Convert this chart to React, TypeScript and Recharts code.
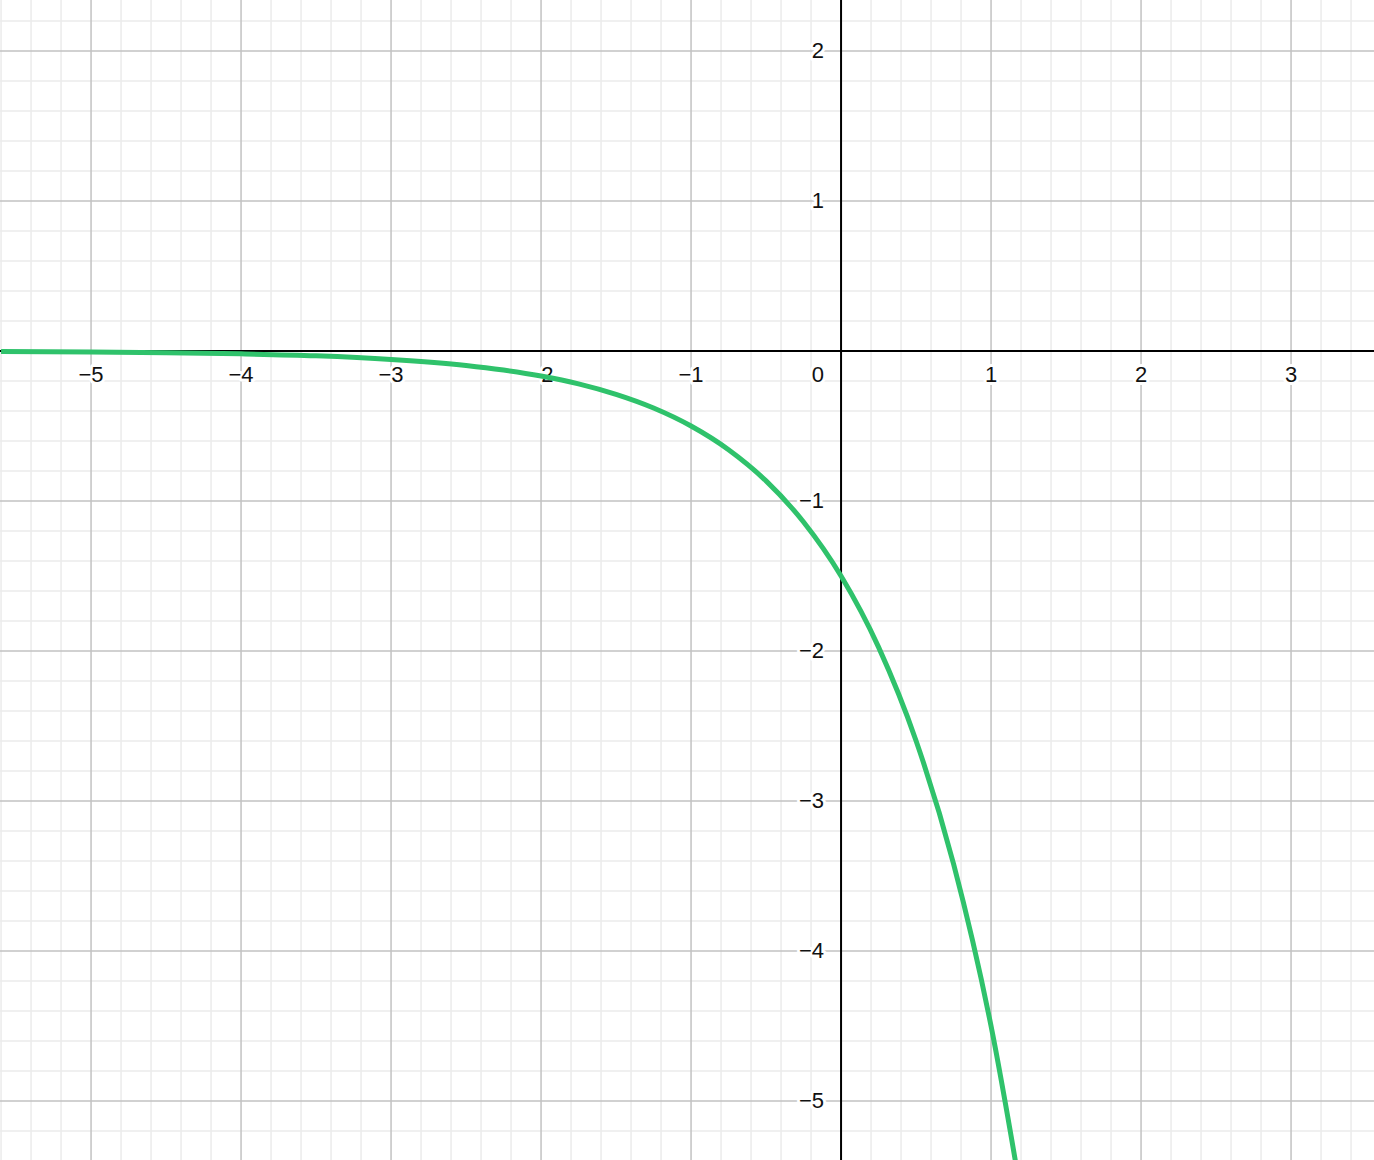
import React from 'react';
import { LineChart, Line, XAxis, YAxis, ReferenceLine, ReferenceDot } from 'recharts';

// curve (x, y)
const curveX = [
  -5.6, -5, -4.5, -4, -3.5, -3, -2.5, -2.25, -2, -1.75, -1.5, -1.25, -1,
  -0.75, -0.5, -0.25, 0, 0.25, 0.5, 0.75, 1, 1.25,
];
const curveY = [
  -0.003, -0.006, -0.011, -0.019, -0.032, -0.056, -0.096, -0.127, -0.167, -0.219, -0.289, -0.38, -0.5,
  -0.658, -0.866, -1.14, -1.5, -1.974, -2.598, -3.419, -4.5, -5.922,
];

const xTicks = [-5, -4, -3, -2, -1, 1, 2, 3];
const yTicks = [2, 1, -1, -2, -3, -4, -5];
const xDomain = [-5.607, 3.553];
const yDomain = [-5.393, 2.34];

const W = 1374;
const H = 1160;
const margin = { top: 0, right: 0, bottom: 0, left: 0 };

const data = curveX.map((x, i) => ({ x, y: curveY[i] }));

const minorStep = 0.2;
const minorX: number[] = [];
for (let i = Math.ceil(xDomain[0] / minorStep); i * minorStep <= xDomain[1]; i++) {
  if (i % 5 !== 0) minorX.push(+(i * minorStep).toFixed(2));
}
const minorY: number[] = [];
for (let i = Math.ceil(yDomain[0] / minorStep); i * minorStep <= yDomain[1]; i++) {
  if (i % 5 !== 0) minorY.push(+(i * minorStep).toFixed(2));
}

const fmt = (v: number) => (v < 0 ? '\u2212' + Math.abs(v) : String(v));

// tick label with a white halo
const Tick = ({ x, y, anchor, text }: { x: number; y: number; anchor: 'middle' | 'end'; text: string }) => (
  <text
    x={x}
    y={y}
    textAnchor={anchor}
    fontFamily='"Liberation Sans", Arial, sans-serif'
    fontSize="22px"
    fill="#111"
    stroke="#fff"
    strokeWidth={6}
    strokeLinejoin="round"
    paintOrder="stroke"
  >
    {text}
  </text>
);

const xLabel = (text: string) => (props: any) => {
  const { x, y } = props.viewBox;
  return <Tick x={x + 1} y={y + 32} anchor="middle" text={text} />;
};

const yLabel = (text: string) => (props: any) => {
  const { x, y } = props.viewBox;
  return <Tick x={x - 16} y={y + 8} anchor="end" text={text} />;
};

const originLabel = (props: any) => {
  const { x, y } = props.viewBox;
  return <Tick x={x - 16} y={y + 32} anchor="end" text="0" />;
};

const layer = { position: 'absolute' as const, left: 0, top: 0 };

const App = () => {
  return (
    <div style={{ position: 'absolute', left: 0, top: 0, width: W, height: H, background: '#fff' }}>
      {/* grid, axes and labels */}
      <div style={layer}>
        <LineChart width={W} height={H} data={data} margin={margin}>
          <XAxis dataKey="x" type="number" domain={xDomain} allowDataOverflow hide />
          <YAxis type="number" domain={yDomain} allowDataOverflow hide />
          {minorX.map((v) => (
            <ReferenceLine key={'mx' + v} x={v} stroke="#ebebeb" strokeWidth={1.5} />
          ))}
          {minorY.map((v) => (
            <ReferenceLine key={'my' + v} y={v} stroke="#ebebeb" strokeWidth={1.5} />
          ))}
          {xTicks.map((v) => (
            <ReferenceLine key={'Mx' + v} x={v} stroke="#c2c2c2" strokeWidth={1.5} />
          ))}
          {yTicks.map((v) => (
            <ReferenceLine key={'My' + v} y={v} stroke="#c2c2c2" strokeWidth={1.5} />
          ))}
          <ReferenceLine x={0} stroke="#000" strokeWidth={2} />
          <ReferenceLine y={0} stroke="#000" strokeWidth={2} />
          {xTicks.map((v) => (
            <ReferenceDot key={'lx' + v} x={v} y={0} r={1} fill="none" stroke="none" label={xLabel(fmt(v))} />
          ))}
          {yTicks.map((v) => (
            <ReferenceDot key={'ly' + v} x={0} y={v} r={1} fill="none" stroke="none" label={yLabel(fmt(v))} />
          ))}
          <ReferenceDot x={0} y={0} r={1} fill="none" stroke="none" label={originLabel} />
        </LineChart>
      </div>
      {/* curve on top */}
      <div style={layer}>
        <LineChart width={W} height={H} data={data} margin={margin}>
          <XAxis dataKey="x" type="number" domain={xDomain} allowDataOverflow hide />
          <YAxis type="number" domain={yDomain} allowDataOverflow hide />
          <Line
            type="monotone"
            dataKey="y"
            stroke="#2fc26b"
            strokeWidth={5}
            dot={false}
            activeDot={false}
            isAnimationActive={false}
          />
        </LineChart>
      </div>
    </div>
  );
};

export default App;
